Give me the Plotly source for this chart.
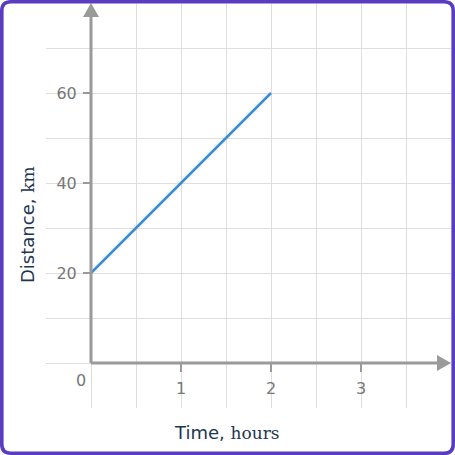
import plotly.graph_objects as go

# data
time_hours = [0, 2]
distance_km = [20, 60]
x_ticks = [1, 2, 3]
y_ticks = [20, 40, 60]
x_title = "Time, <span style='font-family:DejaVu Serif;font-size:17px'>hours</span>"
y_title = "Distance, <span style='font-family:DejaVu Serif;font-size:17px'>km</span>"

W, H = 455, 455
L, R, T, B = 46, 4, 3, 47
x_range = [-0.5, 4.0]
y_range = [-10, 80]

axis_grey = "#9a9a9a"
label_grey = "#777777"
title_col = "#1d3652"


def px(x, y):
    # pixel -> paper coords
    return (x - L) / (W - L - R), (H - B - y) / (H - T - B)


fig = go.Figure()

fig.add_trace(go.Scatter(x=time_hours, y=distance_km, mode="lines",
                         line=dict(color="#3a8cd6", width=2.5), hoverinfo="skip"))
# dummy trace so the tick axes get drawn
fig.add_trace(go.Scatter(x=time_hours, y=distance_km, xaxis="x2", yaxis="y2",
                         mode="lines", opacity=0, hoverinfo="skip"))

# x position of y=0 and y position of x=0, in paper units
x0_paper = (0 - x_range[0]) / (x_range[1] - x_range[0])
y0_paper = (0 - y_range[0]) / (y_range[1] - y_range[0])

# axis lines with arrowheads
ux = (x_range[1] - x_range[0]) / (W - L - R)   # hours per pixel
uy = (y_range[1] - y_range[0]) / (H - T - B)   # km per pixel
shapes = [
    dict(type="line", xref="x", yref="y", x0=0, x1=x_range[1] - 12 * ux, y0=0, y1=0,
         line=dict(color=axis_grey, width=3)),
    dict(type="path", xref="x", yref="y", fillcolor=axis_grey, line=dict(width=0),
         path=f"M {x_range[1] - 14 * ux},{-8 * uy} L {x_range[1]},0 L {x_range[1] - 14 * ux},{8 * uy} Z"),
    dict(type="line", xref="x", yref="y", x0=0, x1=0, y0=0, y1=y_range[1] - 12 * uy,
         line=dict(color=axis_grey, width=3)),
    dict(type="path", xref="x", yref="y", fillcolor=axis_grey, line=dict(width=0),
         path=f"M {-8 * ux},{y_range[1] - 14 * uy} L 0,{y_range[1]} L {8 * ux},{y_range[1] - 14 * uy} Z"),
]

# purple rounded frame
a, b, r = 1.8, W - 1.8, 9
p = lambda x, y: "%.5f,%.5f" % px(x, y)
frame = (f"M {p(a + r, a)} L {p(b - r, a)} Q {p(b, a)} {p(b, a + r)} "
         f"L {p(b, b - r)} Q {p(b, b)} {p(b - r, b)} L {p(a + r, b)} "
         f"Q {p(a, b)} {p(a, b - r)} L {p(a, a + r)} Q {p(a, a)} {p(a + r, a)} Z")
shapes.append(dict(type="path", xref="paper", yref="paper", path=frame,
                   line=dict(color="#5a3cc0", width=3.6), layer="above"))

tx, ty = px(226, 432)
lx, ly = px(27, 225)
annotations = [
    dict(x=0, y=0, xref="x", yref="y", text="0", showarrow=False, xshift=-10.5, yshift=-17,
         xanchor="center", yanchor="middle", font=dict(size=16, color=label_grey)),
    dict(x=tx, y=ty, xref="paper", yref="paper", text=x_title, showarrow=False,
         xanchor="center", yanchor="middle",
         font=dict(size=18, color=title_col, family="DejaVu Sans")),
    dict(x=lx, y=ly, xref="paper", yref="paper", text=y_title, showarrow=False, textangle=-90,
         xanchor="center", yanchor="middle",
         font=dict(size=18, color=title_col, family="DejaVu Sans")),
]

grid = dict(showgrid=True, gridcolor="#dedede", gridwidth=1, zeroline=False,
            showticklabels=False, ticks="", showline=False, fixedrange=True)

fig.update_layout(
    width=W, height=H,
    margin=dict(l=L, r=R, t=T, b=B),
    paper_bgcolor="white", plot_bgcolor="white",
    showlegend=False,
    font=dict(family="DejaVu Sans", color=label_grey),
    xaxis=dict(range=x_range, dtick=0.5, tick0=0, **grid),
    yaxis=dict(range=y_range, dtick=10, tick0=0, **grid),
    xaxis2=dict(range=x_range, overlaying="x", anchor="free", position=y0_paper, side="bottom",
                tickvals=x_ticks, ticks="outside", ticklen=8, tickwidth=2, tickcolor=axis_grey,
                tickfont=dict(size=16, color=label_grey), showgrid=False, zeroline=False,
                showline=False, ticklabelstandoff=3),
    yaxis2=dict(range=y_range, overlaying="y", anchor="free", position=x0_paper, side="left",
                tickvals=y_ticks, ticks="outside", ticklen=8, tickwidth=2, tickcolor=axis_grey,
                tickfont=dict(size=16, color=label_grey), showgrid=False, zeroline=False,
                showline=False, ticklabelstandoff=3),
    shapes=shapes,
    annotations=annotations,
)

fig.write_html("out.html", config={"displayModeBar": False},
               post_script="document.body.style.margin='0px';")
